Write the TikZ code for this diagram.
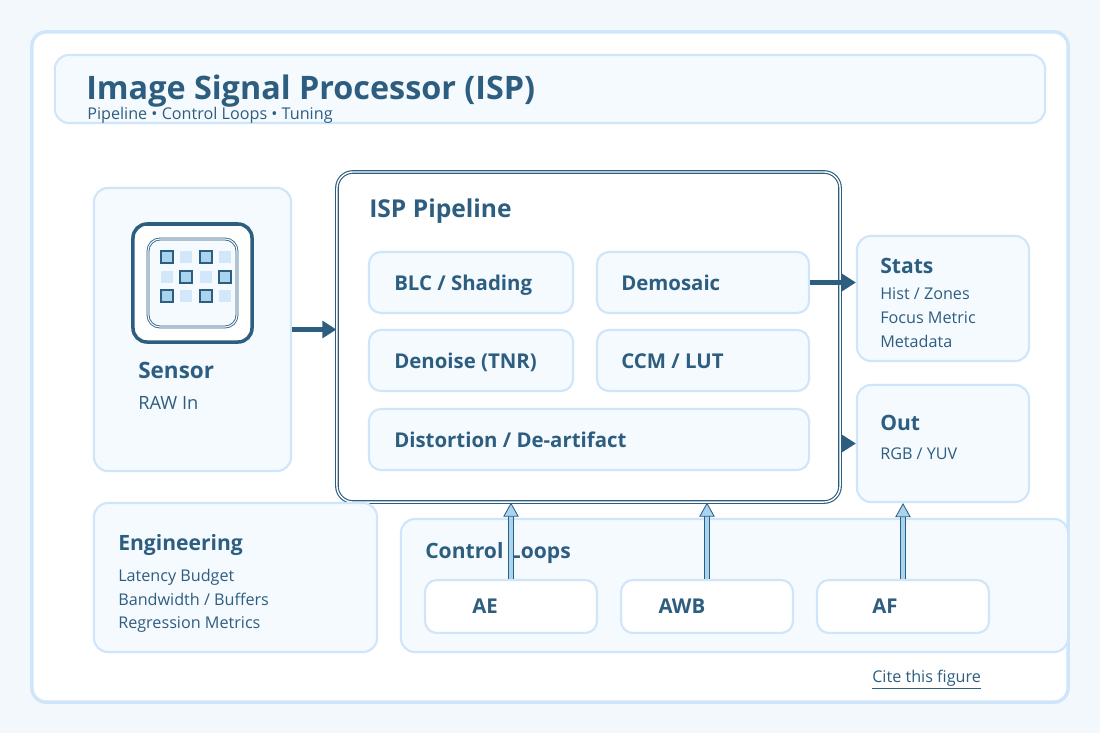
\documentclass[tikz,border=0pt]{standalone}
\usepackage{fontspec}
\setmainfont{Open Sans}
\usetikzlibrary{arrows.meta}
\definecolor{ink}{RGB}{45,94,128}
\definecolor{rim}{RGB}{207,230,250}
\definecolor{panel}{RGB}{245,250,255}
\definecolor{paper}{RGB}{243,248,253}
\definecolor{flow}{RGB}{168,212,240}
\definecolor{cell}{RGB}{210,232,250}
\begin{document}
\begin{tikzpicture}[
    x=0.025cm, y=-0.025cm,
    every node/.style={text=ink, inner sep=0pt},
    card/.style={draw=rim, line width=1.5pt, fill=panel, rounded corners=0.35cm},
    stage/.style={draw=rim, line width=1.5pt, fill=panel, rounded corners=0.3cm, minimum height=1.525cm},
    tag/.style={anchor=base west, font=\fontsize{14.5}{16}\selectfont\bfseries},
    note/.style={anchor=base west, font=\fontsize{11.5}{13}\selectfont},
    head/.style={anchor=base west, font=\fontsize{16}{18}\selectfont\bfseries},
    push/.style={draw=ink, line width=3pt, -{Triangle[length=10pt,width=12pt]}},
    feed/.style={draw=ink, double=flow, double distance=2.4pt, line width=0.6pt, -{Triangle[length=10pt,width=11pt,fill=flow]}},
    ]
\fill[paper] (0,0) rectangle (1100,733);
\node[card, fill=white, draw=rim, line width=2.5pt, minimum width=25.9cm, minimum height=16.75cm] (frame) at (550,367) {};
\node[card, minimum width=24.75cm, minimum height=1.7cm] (banner) at (550,89) {};
\node[anchor=base west, font=\fontsize{23}{25}\selectfont\bfseries] (title) at (86,99) {Image Signal Processor (ISP)};
\node[note, font=\fontsize{11.5}{13}\selectfont] (subtitle) at (87,119) {Pipeline • Control Loops • Tuning};
% sensor
\node[card, minimum width=4.925cm, minimum height=7.075cm] (sensor) at (192.5,329.5) {};
\node[draw=ink, line width=2.5pt, fill=white, rounded corners=0.35cm, minimum width=2.975cm, minimum height=2.95cm] (chip) at (192.5,283) {};
\node[draw=ink, double=panel, line width=0.6pt, double distance=0.8pt, fill=panel, rounded corners=0.3cm, minimum width=2.225cm, minimum height=2.2cm] (die) at (192.5,283) {};
\foreach \c/\r/\k in {167/257/1,186/257/0,206/257/1,225/257/0,167/277/0,186/277/1,206/277/0,225/277/1,167/296/1,186/296/0,206/296/1,225/296/0}{
  \ifnum\k=1
    \node[draw=ink, fill=flow, line width=0.8pt, minimum size=0.3cm] at (\c,\r) {};
  \else
    \node[fill=cell, minimum size=0.32cm] at (\c,\r) {};
  \fi
}
\node[head] (sensorT) at (138,378) {Sensor};
\node[note, font=\fontsize{13}{15}\selectfont] (sensorS) at (138,409) {RAW In};
% pipeline
\node[draw=ink, double=white, line width=0.8pt, double distance=1pt, fill=white, rounded corners=0.4cm, minimum width=12.575cm, minimum height=8.25cm] (pipe) at (588.5,337) {};
\node[anchor=base west, font=\fontsize{17.5}{19}\selectfont\bfseries] (pipeT) at (369,217) {ISP Pipeline};
\node[stage, minimum width=5.1cm] (blc) at (471,282.5) {};
\node[tag] at (394,290) {BLC / Shading};
\node[stage, minimum width=5.3cm] (demosaic) at (703,282.5) {};
\node[tag] at (621,290) {Demosaic};
\node[stage, minimum width=5.1cm] (denoise) at (471,360.5) {};
\node[tag] at (394,368) {Denoise (TNR)};
\node[stage, minimum width=5.3cm] (ccm) at (703,360.5) {};
\node[tag] at (621,368) {CCM / LUT};
\node[stage, minimum width=11cm] (distort) at (589,439.5) {};
\node[tag] at (394,447) {Distortion / De-artifact};
% outputs
\node[card, minimum width=4.3cm, minimum height=3.125cm] (stats) at (943,298.5) {};
\node[head, font=\fontsize{15}{17}\selectfont\bfseries] at (880,273) {Stats};
\node[note] at (880,299) {Hist / Zones};
\node[note] at (880,323) {Focus Metric};
\node[note] at (880,347) {Metadata};
\node[card, minimum width=4.3cm, minimum height=2.925cm] (out) at (943,443.5) {};
\node[head, font=\fontsize{15}{17}\selectfont\bfseries] at (880,430) {Out};
\node[note] at (880,459) {RGB / YUV};
% engineering
\node[card, minimum width=7.075cm, minimum height=3.725cm] (eng) at (235.5,577.5) {};
\node[head, font=\fontsize{15}{17}\selectfont\bfseries] at (118,550) {Engineering};
\node[note] at (118,581) {Latency Budget};
\node[note] at (118,605) {Bandwidth / Buffers};
\node[note] at (118,628) {Regression Metrics};
% control loops
\node[card, minimum width=16.675cm, minimum height=3.325cm] (loops) at (734.5,585.5) {};
\node[head, font=\fontsize{15}{17}\selectfont\bfseries] at (425,558) {Control Loops};
\node[stage, fill=white, minimum width=4.3cm, minimum height=1.325cm] (ae) at (511,606.5) {};
\node[tag, anchor=center] at (485,606.5) {AE};
\node[stage, fill=white, minimum width=4.3cm, minimum height=1.325cm] (awb) at (707,606.5) {};
\node[tag, anchor=center] at (682,606.5) {AWB};
\node[stage, fill=white, minimum width=4.3cm, minimum height=1.325cm] (af) at (903,606.5) {};
\node[tag, anchor=center] at (885,606.5) {AF};
\node[anchor=base west, font=\fontsize{11.5}{13}\selectfont] (cite) at (872,682) {\underline{Cite this figure}};
% connectors
\draw[push] (sensor.east) -- (sensor.east -| pipe.west);
\draw[push] (demosaic.east) -- (demosaic.east -| stats.west);
\draw[push] (out.west -| pipe.east) -- (out.west);
\draw[feed] (ae.north) -- (ae.north |- pipe.south);
\draw[feed] (awb.north) -- (awb.north |- pipe.south);
\draw[feed] (af.north) -- (af.north |- out.south);
\end{tikzpicture}
\end{document}
